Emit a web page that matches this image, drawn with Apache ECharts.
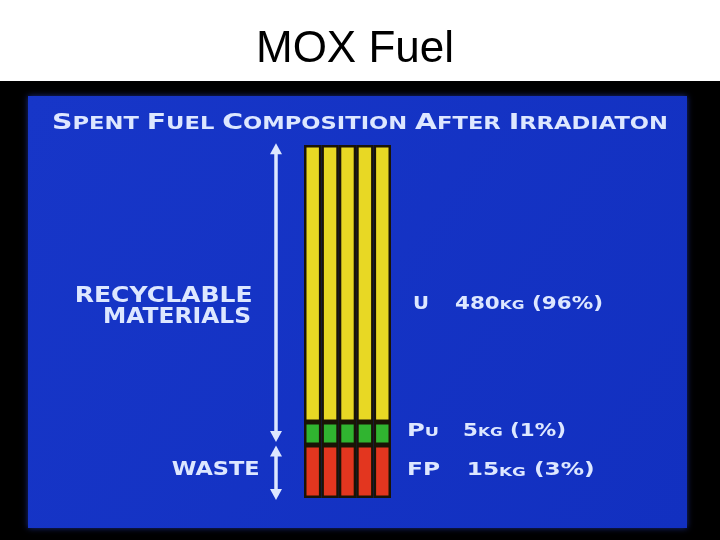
<!DOCTYPE html>
<html><head><meta charset="utf-8">
<script src="https://cdn.jsdelivr.net/npm/echarts@6/dist/echarts.min.js"></script>
<style>html,body{margin:0;padding:0;background:#fff}#c{width:720px;height:540px}</style>
</head><body><div id="c"></div>
<script>
// ---- data ----
const rods = ['1', '2', '3', '4', '5'];
// drawn segment heights as they appear in the picture (not to scale with mass)
const fpBand = [53, 53, 53, 53, 53];
const puBand = [23, 23, 23, 23, 23];
const uBand = [277, 277, 277, 277, 277];
const materials = ['U', 'Pu', 'FP'];
const massesKg = [480, 5, 15];
const percents = [96, 1, 3];
const panelTitle = 'SPENT FUEL COMPOSITION AFTER IRRADIATON';
const pageTitle = 'MOX Fuel';

const chart = echarts.init(document.getElementById('c'), null, {renderer: 'canvas'});
const total = fpBand[0] + puBand[0] + uBand[0];
const BORDER = '#1a1406';
function barSeries(name, data, color) {
  return {
    name, type: 'bar', stack: 'rod', data, barCategoryGap: 0, barGap: 0,
    silent: true,
    itemStyle: {color, borderColor: BORDER, borderWidth: 2.5}
  };
}
chart.setOption({
  animation: false,
  backgroundColor: 'transparent',
  grid: {left: 304, right: 329, top: 145, bottom: 42},
  xAxis: {type: 'category', data: rods, show: false},
  yAxis: {type: 'value', min: 0, max: total, show: false},
  series: [
    barSeries('FP', fpBand, '#e3361f'),
    barSeries('Pu', puBand, '#30b430'),
    barSeries('U', uBand, '#e8d824')
  ]
});

// ---- text helpers ----
const cv = document.createElement('canvas').getContext('2d');
function segWidth(t, size, fam, weight) {
  cv.font = `${weight} ${size}px ${fam}`;
  return cv.measureText(t).width;
}
function textGroup(segs, opts) {
  const fam = opts.family || '"DejaVu Sans"';
  const weight = opts.weight || 'bold';
  const fill = opts.fill || '#dde7ff';
  let off = 0;
  const children = [];
  segs.forEach(([t, s]) => {
    children.push({
      type: 'text', x: off, y: -0.35 * s, silent: true,
      style: {text: t, fontSize: s, fontFamily: fam, fontWeight: weight, fill,
              align: 'left', verticalAlign: 'middle'}
    });
    off += segWidth(t, s, fam, weight);
  });
  const sx = opts.width ? opts.width / off : 1;
  let x = opts.left;
  if (opts.right !== undefined) x = opts.right - off * sx;
  if (opts.center !== undefined) x = opts.center - off * sx / 2;
  return {type: 'group', x, y: opts.baseline, scaleX: sx, children, z: 10};
}
function smallCaps(str, big, small) {
  const segs = [];
  str.split(' ').forEach((w, i, arr) => {
    const tail = w.slice(1) + (i < arr.length - 1 ? ' ' : '');
    segs.push([w[0], big]);
    if (tail) segs.push([tail, small]);
  });
  return segs;
}

const py = v => chart.convertToPixel({yAxisIndex: 0}, v);
const yTop = py(total), yFP = py(fpBand[0]), yBottom = py(0);
const yPuMid = py(fpBand[0] + puBand[0] / 2);
const yFPMid = py(fpBand[0] / 2);
const yUMid = py(fpBand[0] + puBand[0] + uBand[0] / 2);

const AX = 276;
const AC = '#dde7ff';
function arrow(y1, y2) {
  const h = 11, w = 6;
  return [
    {type: 'line', shape: {x1: AX, y1: y1 + h - 1, x2: AX, y2: y2 - h + 1}, style: {stroke: AC, lineWidth: 3.5}, z: 10, silent: true},
    {type: 'polygon', shape: {points: [[AX, y1], [AX - w, y1 + h], [AX + w, y1 + h]]}, style: {fill: AC}, z: 10, silent: true},
    {type: 'polygon', shape: {points: [[AX, y2], [AX - w, y2 - h], [AX + w, y2 - h]]}, style: {fill: AC}, z: 10, silent: true}
  ];
}

function kgLabel(i) {
  return [[String(massesKg[i]), 18], ['KG', 13], [' (' + percents[i] + '%)', 18]];
}

const graphics = [
  {type: 'rect', shape: {x: 0, y: 81, width: 720, height: 459}, style: {fill: '#000'}, z: -10, silent: true},
  {type: 'rect', shape: {x: 28, y: 96, width: 659, height: 432},
   style: {fill: {type: 'linear', x: 0, y: 0, x2: 1, y2: 1, colorStops: [{offset: 0, color: '#1736c8'}, {offset: 1, color: '#1230c0'}]},
           shadowBlur: 6, shadowColor: 'rgba(40,70,220,0.6)'}, z: -9, silent: true},
  textGroup([[pageTitle, 44]], {center: 355, baseline: 65, family: '"Liberation Sans", Arial', weight: 'normal', fill: '#000'}),
  textGroup(smallCaps(panelTitle, 22, 17.5), {left: 52, baseline: 131, width: 616}),
  textGroup([['RECYCLABLE', 22]], {right: 252.7, baseline: 304, width: 178}),
  textGroup([['MATERIALS', 22]], {right: 251, baseline: 325, width: 148}),
  textGroup([['WASTE', 19]], {left: 171.7, baseline: 476.7, width: 88}),
  textGroup([['U', 18]], {left: 413, baseline: yUMid + 27, width: 16}),
  textGroup(kgLabel(0), {left: 455, baseline: yUMid + 27, width: 148}),
  textGroup([['P', 18], ['U', 13]], {left: 407, baseline: yPuMid + 4, width: 32}),
  textGroup(kgLabel(1), {left: 463, baseline: yPuMid + 4, width: 103}),
  textGroup([['FP', 18]], {left: 407, baseline: yFPMid + 5.5, width: 33}),
  textGroup(kgLabel(2), {left: 466.7, baseline: yFPMid + 5.5, width: 128})
].concat(arrow(yTop - 1.7, yFP - 3), arrow(yFP + 0.5, yBottom + 2));

chart.setOption({graphic: {elements: graphics}});
</script></body></html>
